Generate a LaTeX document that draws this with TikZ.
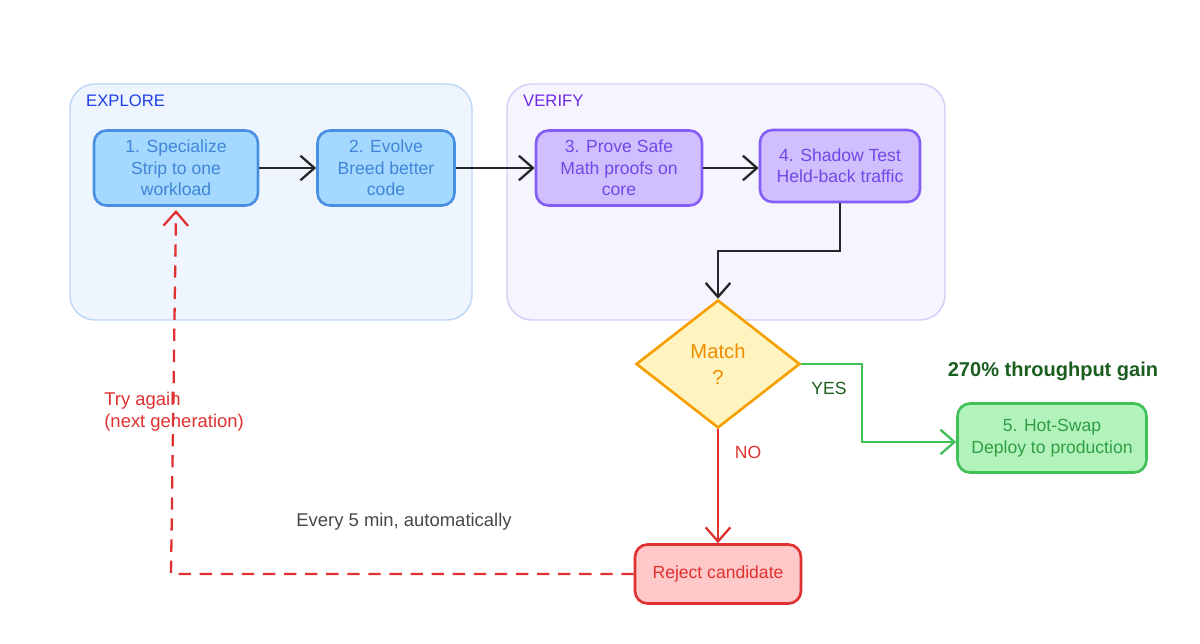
\documentclass[tikz,border=0pt]{standalone}
\usepackage{fontspec}
\setmainfont{Liberation Sans}
\usepackage{tikz}
\usetikzlibrary{shapes.geometric, positioning, arrows.meta}

\definecolor{expfill}{HTML}{EFF5FE}
\definecolor{expline}{HTML}{BCD6F4}
\definecolor{expink}{HTML}{1E40E6}
\definecolor{verfill}{HTML}{F6F4FE}
\definecolor{verline}{HTML}{D6CCF8}
\definecolor{verink}{HTML}{7028E4}
\definecolor{bluefill}{HTML}{A5D8FF}
\definecolor{blueline}{HTML}{4A90E2}
\definecolor{blueink}{HTML}{3F86D8}
\definecolor{purpfill}{HTML}{D0BFFF}
\definecolor{purpline}{HTML}{845EF7}
\definecolor{purpink}{HTML}{7048E8}
\definecolor{matchfill}{HTML}{FFF3BF}
\definecolor{matchline}{HTML}{F59F00}
\definecolor{matchink}{HTML}{F08C00}
\definecolor{okfill}{HTML}{B2F2BB}
\definecolor{okline}{HTML}{40C057}
\definecolor{okink}{HTML}{2F9E44}
\definecolor{okdark}{HTML}{1B5E20}
\definecolor{nofill}{HTML}{FFC9C9}
\definecolor{noline}{HTML}{E03131}
\definecolor{noteink}{HTML}{484848}

\begin{document}
\begin{tikzpicture}[x=0.02cm, y=-0.02cm, font=\fontsize{10}{12.2}\selectfont,
          >={Straight Barb[length=8pt,width=14pt]},
          group/.style={rounded corners=0.5cm, line width=0.8pt},
          stepbox/.style={rounded corners=0.25cm, line width=1.5pt, align=center, inner sep=2pt},
          expbox/.style={stepbox, fill=bluefill, draw=blueline, text=blueink},
          verbox/.style={stepbox, fill=purpfill, draw=purpline, text=purpink},
          flow/.style={->, line width=1.3pt, draw=black!85}]
        \fill[white] (0,0) rectangle (1200,644);
        % groups
        \draw[group, fill=expfill, draw=expline] (70,84) rectangle (472,320);
        \draw[group, fill=verfill, draw=verline] (507,84) rectangle (945,320);
        \node[anchor=west, text=expink, font=\fontsize{9.5}{11}\selectfont] (explore) at (80,101) {EXPLORE};
        \node[anchor=west, text=verink, font=\fontsize{9.5}{11}\selectfont] (verify) at (517,101) {VERIFY};
        % steps
        \node[expbox, minimum width=3.28cm, minimum height=1.5cm] (spec) at (176,168) {1. Specialize\\Strip to one\\workload};
        \node[expbox, minimum width=2.74cm, minimum height=1.5cm] (evolve) at (386,168) {2. Evolve\\Breed better\\code};
        \node[verbox, minimum width=3.32cm, minimum height=1.5cm] (prove) at (619,168) {3. Prove Safe\\Math proofs on\\core};
        \node[verbox, minimum width=3.2cm, minimum height=1.44cm] (shadow) at (840,166) {4. Shadow Test\\Held-back traffic};
        \node[diamond, fill=matchfill, draw=matchline, line width=1.5pt, text=matchink, align=center,
              inner sep=0pt, minimum width=3.28cm, minimum height=2.56cm, font=\fontsize{11.5}{15}\selectfont] (match) at (718,364) {Match\\?};
        \node[stepbox, fill=okfill, draw=okline, text=okink, minimum width=3.78cm, minimum height=1.38cm] (swap) at (1052,438) {5. Hot-Swap\\Deploy to production};
        \node[stepbox, fill=nofill, draw=noline, text=noline, minimum width=3.32cm, minimum height=1.18cm] (reject) at (718,574) {Reject candidate};
        % labels
        \node[text=okdark, font=\fontsize{11.4}{14}\selectfont\bfseries] (gain) at (1053,371) {270\% throughput gain};
        \node[text=okdark] (yes) at (829,388) {YES};
        \node[text=noline] (no) at (748,452) {NO};
        \node[text=noteink, font=\fontsize{10.5}{12}\selectfont] (every) at (404,522) {Every 5 min, automatically};
        \node[text=noline, anchor=west, align=left, inner sep=0pt, font=\fontsize{10.5}{12.5}\selectfont] (again) at (104,412) {Try agaih\\(next generation)};
        % connectors
        \draw[flow] (spec) -- (evolve);
        \draw[flow] (evolve) -- (prove);
        \draw[flow] (prove) -- (prove -| shadow.west);
        \draw[flow] (shadow.south) -- ++(0,48) -| (match.north);
        \draw[->, line width=1.3pt, draw=okline] (match.east) -| (862,442) -- (swap.west |- 0,442);
        \draw[->, line width=1.3pt, draw=noline] (match.south) -- (reject.north);
        \draw[->, line width=1.3pt, draw=noline, dashed, dash pattern=on 7pt off 5pt] (reject.west) -- (171,574) -- (spec.south |- 0,210);
      \end{tikzpicture}
\end{document}
